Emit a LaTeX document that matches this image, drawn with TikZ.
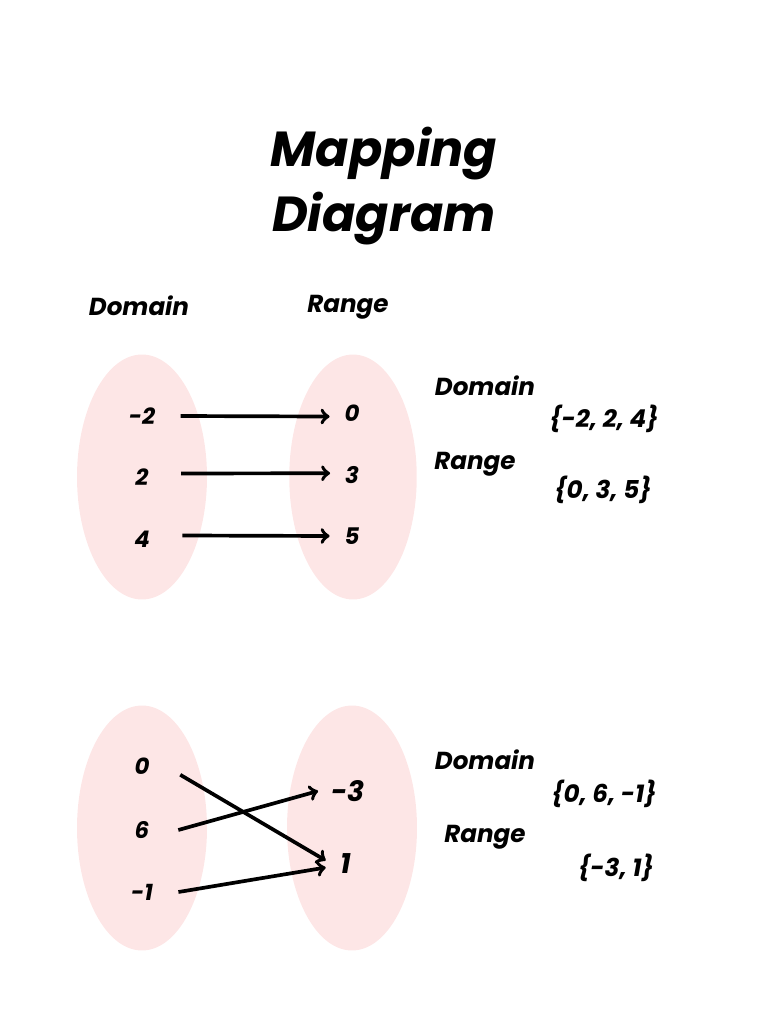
\documentclass[tikz,border=0pt]{standalone}
\usepackage{fontspec}
\setmainfont{Poppins}
\usepackage{tikz}
\usetikzlibrary{shapes.geometric, arrows}
\definecolor{setpink}{HTML}{FDE6E6}
\tikzstyle{set} = [ellipse, minimum width = 2.6cm, minimum height = 4.9cm, fill = setpink, draw = none]
\tikzstyle{title} = [font = \fontsize{28}{37}\selectfont\bfseries\itshape, align = center]
\tikzstyle{label} = [font = \fontsize{14}{17}\selectfont\bfseries\itshape]
\tikzstyle{num} = [font = \fontsize{13}{16}\selectfont\bfseries\itshape]
\tikzstyle{bignum} = [font = \fontsize{16}{19}\selectfont\bfseries\itshape]
\tikzstyle{arrow} = [line width = 2.1pt, -> , >=to]

\begin{document}
\begin{tikzpicture}[x = 0.02cm, y = -0.02cm]
\useasboundingbox (0,0) rectangle (768,1024);

\node (title) [title] at (384,186) {Mapping\\Diagram};
\node (dlab) [label] at (139,306) {Domain};
\node (rlab) [label] at (348,307) {Range};

% first mapping
\node (dset1) [set] at (142,477) {};
\node (rset1) [set, minimum width = 2.55cm] at (353,477) {};

\node (a1) [num] at (142,416) {-2};
\node (a2) [num] at (142,477) {2};
\node (a3) [num] at (142,539) {4};
\node (b1) [num] at (352,413) {0};
\node (b2) [num] at (352,475) {3};
\node (b3) [num] at (352,536) {5};

\draw [arrow] ([xshift = 11pt]a1.east) -- ([xshift = -5pt, yshift = -2pt]b1.west);
\draw [arrow] ([xshift = 15pt, yshift = 2pt]a2.east) -- ([xshift = -5pt, yshift = 1pt]b2.west);
\draw [arrow] ([xshift = 15pt, yshift = 2pt]a3.east) -- ([xshift = -5pt]b3.west);

\node (dtxt1) [label] at (485,386) {Domain};
\node (dval1) [label] at (604,419) {\{-2, 2, 4\}};
\node (rtxt1) [label] at (475,464) {Range};
\node (rval1) [label] at (603,490) {\{0, 3, 5\}};

% second mapping
\node (dset2) [set] at (142,828) {};
\node (rset2) [set] at (352,828) {};

\node (c1) [num] at (142,766) {0};
\node (c2) [num] at (142,830) {6};
\node (c3) [num] at (142,892) {-1};
\node (e1) [bignum] at (348,791) {-3};
\node (e2) [bignum] at (346,864) {1};

\draw [arrow] ([xshift = 14pt, yshift = -5pt]c1.east) -- ([xshift = -5pt, yshift = 2pt]e2.west);
\draw [arrow] ([xshift = 13pt]c2.east) -- ([xshift = -4pt]e1.west);
\draw [arrow] ([xshift = 11pt]c3.east) -- ([xshift = -5pt, yshift = -2pt]e2.west);

\node (dtxt2) [label] at (485,760) {Domain};
\node (dval2) [label] at (604,794) {\{0, 6, -1\}};
\node (rtxt2) [label] at (485,837) {Range};
\node (rval2) [label] at (616,868) {\{-3, 1\}};

\end{tikzpicture}
\end{document}
